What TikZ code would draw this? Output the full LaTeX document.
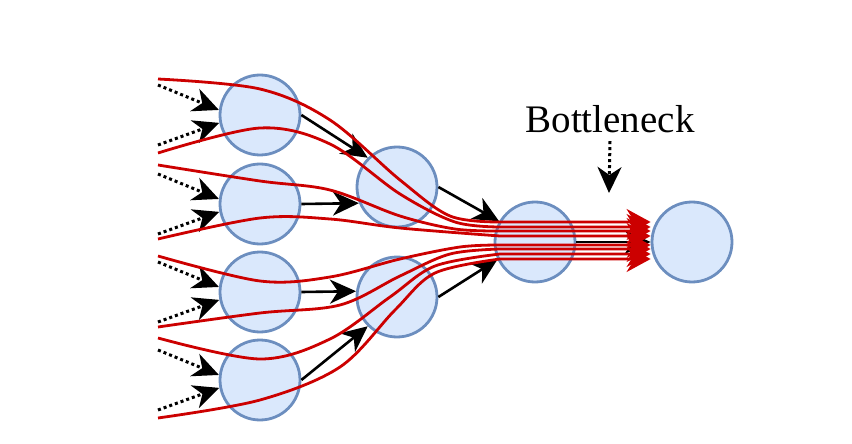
\documentclass[tikz,border=0pt]{standalone}
\usepackage{fontspec}
\setmainfont{Liberation Serif}
\usetikzlibrary{arrows.meta, positioning}
\definecolor{nodefill}{HTML}{DAE8FC}
\definecolor{nodeline}{HTML}{6C8EBF}
\definecolor{flowred}{HTML}{CC0000}

\begin{document}
\begin{tikzpicture}[x=0.5pt, y=-0.5pt,
    >={Stealth[length=13pt, width=12pt, inset=4pt]},
    peer/.style={circle, draw=nodeline, fill=nodefill, line width=1.4pt, minimum size=40pt, inner sep=0pt},
    link/.style={->, line width=1.3pt},
    input/.style={->, line width=1.5pt, dash pattern=on 1.5pt off 1.5pt},
    flow/.style={->, flowred, line width=1.4pt, >={Stealth[length=12pt, width=13pt, inset=4pt]}}]

\useasboundingbox (0,0) rectangle (852,444);

% Define nodes
\node[peer] (c1) at (260,115) {};
\node[peer] (c2) at (260,204) {};
\node[peer] (c3) at (260,292) {};
\node[peer] (c4) at (260,380) {};
\node[peer] (m1) at (397,187) {};
\node[peer] (m2) at (397,297) {};
\node[peer] (hub) at (535,242) {};
\node[peer] (sink) at (692,242) {};

% Bottleneck label
\node[font=\fontsize{19.5}{23}\selectfont, inner sep=4pt] (neck) at (610,119) {Bottleneck};
\coordinate (neckTip) at (609,193);
\draw[input] (neck.south) -- (neckTip);

% Incoming traffic
\foreach \i in {1,...,4} {
  \draw[input] ([shift={(-102,-30)}]c\i.center) -- (c\i.173);
  \draw[input] ([shift={(-102,30)}]c\i.center) -- (c\i.191);
}

% Draw edges
\draw[link] (c1.east) -- (m1.135);
\draw[link] (c2.east) -- (m1.203);
\draw[link] (c3.east) -- (m2.172);
\draw[link] (c4.east) -- (m2.225);
\draw[link] (m1.east) -- (hub.150);
\draw[link] (m2.east) -- (hub.205);
\draw[link] (hub.east) -- (sink.west);

% Flows through the upper branch
\draw[flow] plot[smooth, tension=0.55] coordinates {(158,79) (260,89) (330,120) (400,180) (450,216) (500,222)} -- ([yshift=10pt]sink.west);
\draw[flow] plot[smooth, tension=0.55] coordinates {(158,153) (260,128) (330,144) (400,194) (455,222) (500,227)} -- ([yshift=7.5pt]sink.west);
\draw[flow] plot[smooth, tension=0.55] coordinates {(158,165) (260,181) (330,190) (400,216) (455,229) (500,231)} -- ([yshift=5.5pt]sink.west);
\draw[flow] plot[smooth, tension=0.55] coordinates {(158,239) (260,218) (330,219) (400,228) (500,236)} -- ([yshift=3pt]sink.west);

% Flows through the lower branch
\draw[flow] plot[smooth, tension=0.55] coordinates {(158,256) (260,281) (330,277) (400,259) (460,247) (500,245)} -- ([yshift=-1.5pt]sink.west);
\draw[flow] plot[smooth, tension=0.55] coordinates {(158,327) (260,313) (340,305) (400,276) (450,254) (500,249)} -- ([yshift=-3.5pt]sink.west);
\draw[flow] plot[smooth, tension=0.55] coordinates {(158,338) (260,359) (330,339) (390,297) (435,266) (500,254)} -- ([yshift=-6pt]sink.west);
\draw[flow] plot[smooth, tension=0.55] coordinates {(158,418) (260,400) (340,367) (395,310) (435,273) (500,259)} -- ([yshift=-8.5pt]sink.west);

\end{tikzpicture}
\end{document}
